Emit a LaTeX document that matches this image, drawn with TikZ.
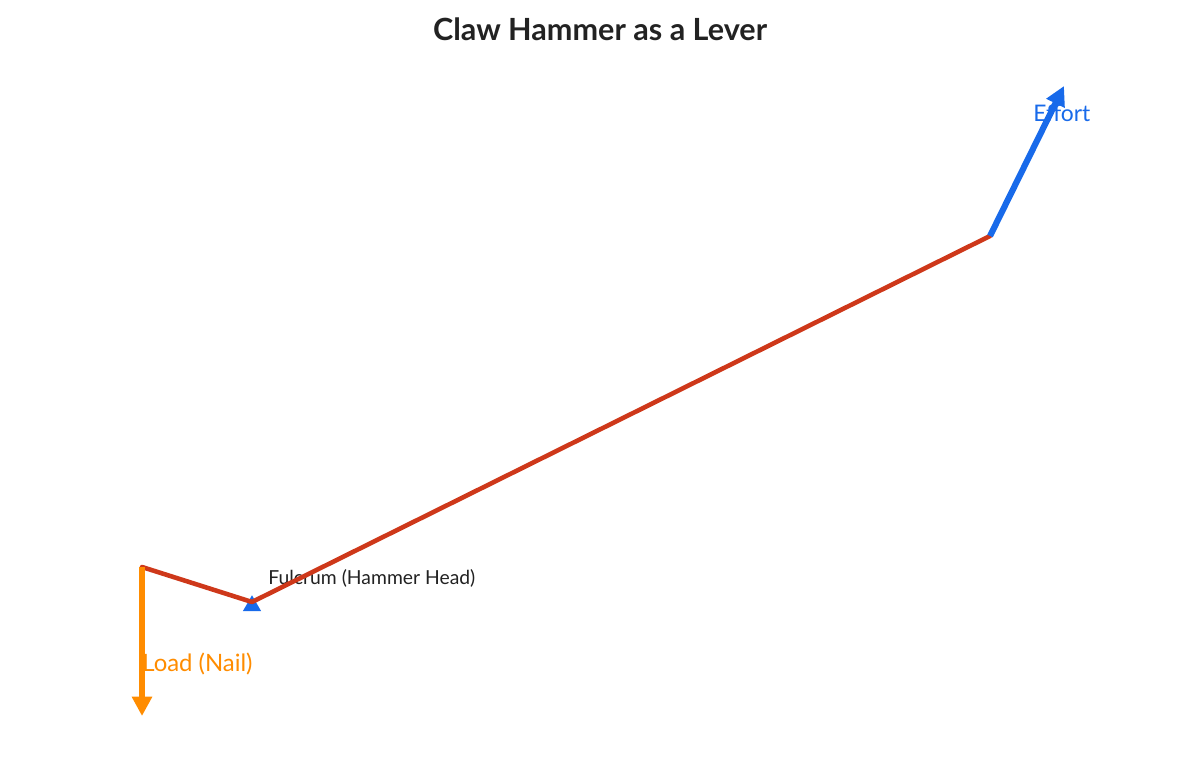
\documentclass[tikz,border=0pt]{standalone}
\usepackage{fontspec}
\setmainfont{Lato}
\usetikzlibrary{arrows.meta,positioning,shapes.geometric}
\definecolor{levercol}{RGB}{206,56,26}
\definecolor{effortcol}{RGB}{24,106,234}
\definecolor{loadcol}{RGB}{255,140,0}
\definecolor{textcol}{RGB}{34,34,34}
\tikzstyle{lever}=[draw=levercol, line width=2.6pt, line cap=round, line join=round]
\tikzstyle{force}=[line width=3.5pt, -{Triangle[length=11pt,width=11pt]}]
\tikzstyle{fulcrum}=[regular polygon, regular polygon sides=3, fill=effortcol, minimum size=0.42cm, inner sep=0pt]
\tikzstyle{label}=[anchor=west, inner sep=0pt]

\begin{document}
\begin{tikzpicture}[font=\sffamily]
		    \useasboundingbox (0,0) rectangle (24,15.26);
		    \node [font=\bfseries\fontsize{17.4}{20}\selectfont, text=textcol] (title) at (12,14.68) {Claw Hammer as a Lever};
		    % lever points
		    \coordinate (claw) at (2.84,3.92);
		    \coordinate (head) at (5.04,3.22);
		    \coordinate (grip) at (19.80,10.54);
		    \coordinate (efforttip) at (21.28,13.54);
		    \coordinate (loadtip) at (2.84,0.94);
		    \node [fulcrum] (fulcrum) at (5.04,3.144) {};
		    \node [label, text=textcol, font=\fontsize{11}{13}\selectfont] (fulcrumlabel) at (5.36,3.70) {Fulcrum (Hammer Head)};
		    \node [label, text=loadcol, font=\fontsize{13.6}{15}\selectfont] (loadlabel) at (2.84,1.98) {Load (Nail)};
		    \node [label, text=effortcol, font=\fontsize{13}{15}\selectfont] (effortlabel) at (20.66,13.0) {Effort};
		    \draw [lever] (claw) -- (head) -- (grip);
		    \draw [force, draw=effortcol, fill=effortcol] (grip) -- (efforttip);
		    \draw [force, draw=loadcol, fill=loadcol, line width=3.1pt] (claw) -- (loadtip);
		\end{tikzpicture}
\end{document}
